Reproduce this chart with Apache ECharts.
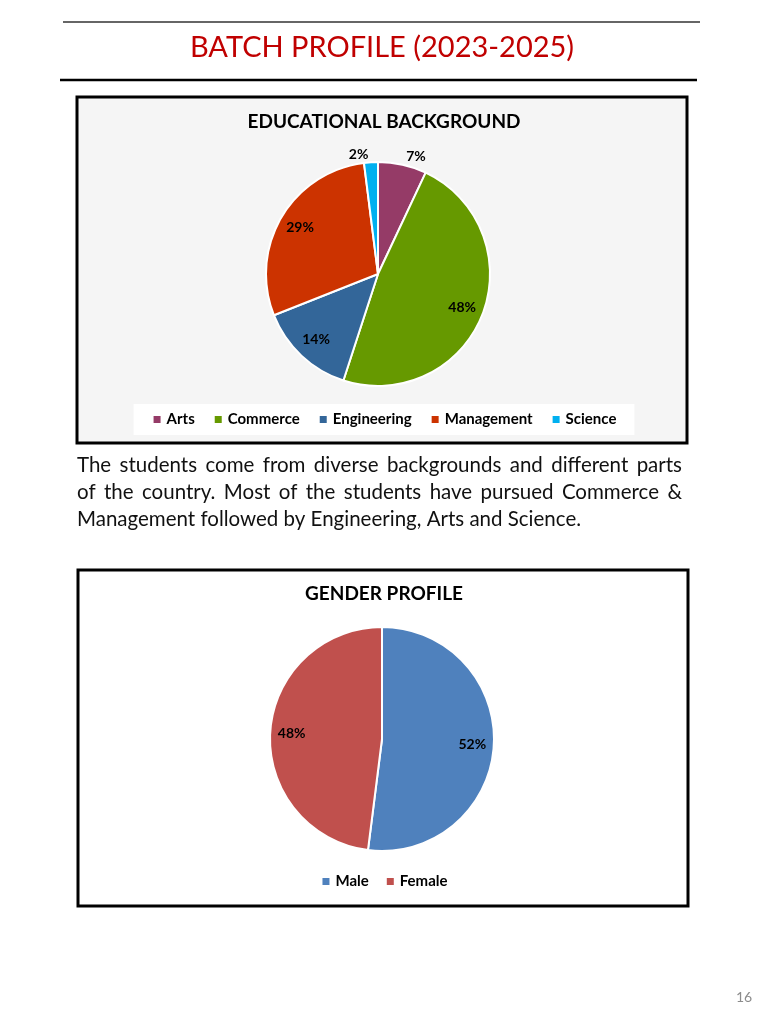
<!DOCTYPE html>
<html><head><meta charset="utf-8">
<script src="https://cdn.jsdelivr.net/npm/echarts@6/dist/echarts.min.js"></script>
<style>html,body{margin:0;padding:0;background:#fff}#c{width:768px;height:1024px}</style>
</head><body><div id="c"></div>
<script>
const pageTitle = 'BATCH PROFILE (2023-2025)';
const eduTitle = 'EDUCATIONAL BACKGROUND';
const eduCategories = ['Arts', 'Commerce', 'Engineering', 'Management', 'Science'];
const eduValues = [7, 48, 14, 29, 2];
const eduColors = ['#953B67', '#669900', '#336699', '#CC3300', '#00B0F0'];
const genderTitle = 'GENDER PROFILE';
const genderCategories = ['Male', 'Female'];
const genderValues = [52, 48];
const genderColors = ['#4F81BD', '#C0504D'];
const paragraphLines = [
  'The students come from diverse backgrounds and different parts',
  'of the country. Most of the students have pursued Commerce &',
  'Management followed by Engineering, Arts and Science.'
];
const pageNumber = '16';

const FONT = 'Lato, "Open Sans", sans-serif';
const chart = echarts.init(document.getElementById('c'), null, {renderer: 'canvas'});

const graphics = [
  {type: 'line', z: 0, shape: {x1: 63, y1: 22, x2: 700, y2: 22}, style: {stroke: '#333', lineWidth: 1.5}},
  {type: 'line', z: 0, shape: {x1: 60, y1: 80, x2: 697, y2: 80}, style: {stroke: '#000', lineWidth: 2.5}},
  {type: 'text', z: 0, x: 382, y: 48, style: {text: pageTitle, font: '29px ' + FONT, fill: '#C00000', textAlign: 'center', textVerticalAlign: 'middle', align: 'center', verticalAlign: 'middle'}},
  {type: 'rect', z: 0, shape: {x: 77, y: 97, width: 610, height: 346}, style: {fill: '#f5f5f5', stroke: '#000', lineWidth: 3}},
  {type: 'rect', z: 0, shape: {x: 78, y: 570, width: 610, height: 336}, style: {fill: '#fff', stroke: '#000', lineWidth: 3}},
  {type: 'text', z: 0, x: 744, y: 997, style: {text: pageNumber, font: '14px ' + FONT, fill: '#8c8c8c', textAlign: 'center', textVerticalAlign: 'middle', align: 'center', verticalAlign: 'middle'}}
];

// justified paragraph
const paraSize = 20.5;
const paraFont = paraSize + 'px ' + FONT;
const paraLeft = 77, paraWidth = 605, paraTop = 465, lineH = 27;
const ctx = document.createElement('canvas').getContext('2d');
ctx.font = paraSize + 'px Lato';
paragraphLines.forEach((line, i) => {
  const words = line.split(' ');
  const widths = words.map(w => ctx.measureText(w).width);
  const total = widths.reduce((a, b) => a + b, 0);
  const justify = i < paragraphLines.length - 1;
  const space = justify ? (paraWidth - total) / (words.length - 1) : ctx.measureText(' ').width;
  let x = paraLeft;
  words.forEach((w, j) => {
    graphics.push({type: 'text', z: 0, x: x, y: paraTop + i * lineH,
      style: {text: w, font: paraFont, fill: '#111', textAlign: 'left', textVerticalAlign: 'middle', align: 'left', verticalAlign: 'middle'}});
    x += widths[j] + space;
  });
});

const R = 112;
const labelStyle = {fontFamily: FONT, fontWeight: 'bold', fontSize: 14, color: '#000'};
const eduData = eduCategories.map((n, i) => ({name: n, value: eduValues[i], itemStyle: {color: eduColors[i]}}));
const eduLabelData = eduCategories.map((n, i) => {
  const d = {name: n, value: eduValues[i], itemStyle: {color: 'rgba(0,0,0,0)'}};
  if (eduValues[i] < 10) {
    d.label = {position: 'outside', distanceToLabelLine: 2};
    d.labelLine = {show: false, length: 8, length2: 0};
  }
  return d;
});
const genderData = genderCategories.map((n, i) => ({name: n, value: genderValues[i], itemStyle: {color: genderColors[i]}}));
const genderLabelData = genderCategories.map((n, i) => ({name: n, value: genderValues[i], itemStyle: {color: 'rgba(0,0,0,0)'}}));

function basePie(center, data) {
  return {type: 'pie', center: center, radius: [0, R], startAngle: 90, clockwise: true,
    data: data, label: {show: false}, labelLine: {show: false},
    itemStyle: {borderColor: '#fff', borderWidth: 2}, emphasis: {disabled: true}, silent: true, z: 2};
}
function labelPie(center, data) {
  return {type: 'pie', center: center, radius: [Math.round(R * 0.56), R], startAngle: 90, clockwise: true,
    data: data, avoidLabelOverlap: false,
    label: Object.assign({show: true, position: 'inside', formatter: '{c}%'}, labelStyle),
    labelLine: {show: false}, itemStyle: {borderWidth: 0}, emphasis: {disabled: true}, silent: true, z: 3};
}

const legendText = {fontFamily: FONT, fontWeight: 'bold', fontSize: 15, color: '#000'};
chart.setOption({
  backgroundColor: '#fff',
  animation: false,
  graphic: {elements: graphics},
  title: [
    {text: eduTitle, left: 'center', top: 112, padding: 0, textStyle: {fontFamily: FONT, fontWeight: 'bold', fontSize: 19, color: '#000'}},
    {text: genderTitle, left: 'center', top: 584, padding: 0, textStyle: {fontFamily: FONT, fontWeight: 'bold', fontSize: 19, color: '#000'}}
  ],
  legend: [
    {data: eduCategories, left: 'center', top: 404, icon: 'rect', itemWidth: 9, itemHeight: 9, itemGap: 18,
      backgroundColor: '#fff', padding: [8, 18], selectedMode: false, textStyle: legendText},
    {data: genderCategories, left: 'center', top: 874, icon: 'rect', itemWidth: 9, itemHeight: 9, itemGap: 16,
      padding: 0, selectedMode: false, textStyle: legendText}
  ],
  series: [
    basePie([378, 274], eduData),
    basePie([382, 739], genderData),
    labelPie([378, 274], eduLabelData),
    labelPie([382, 739], genderLabelData)
  ]
});
</script></body></html>
